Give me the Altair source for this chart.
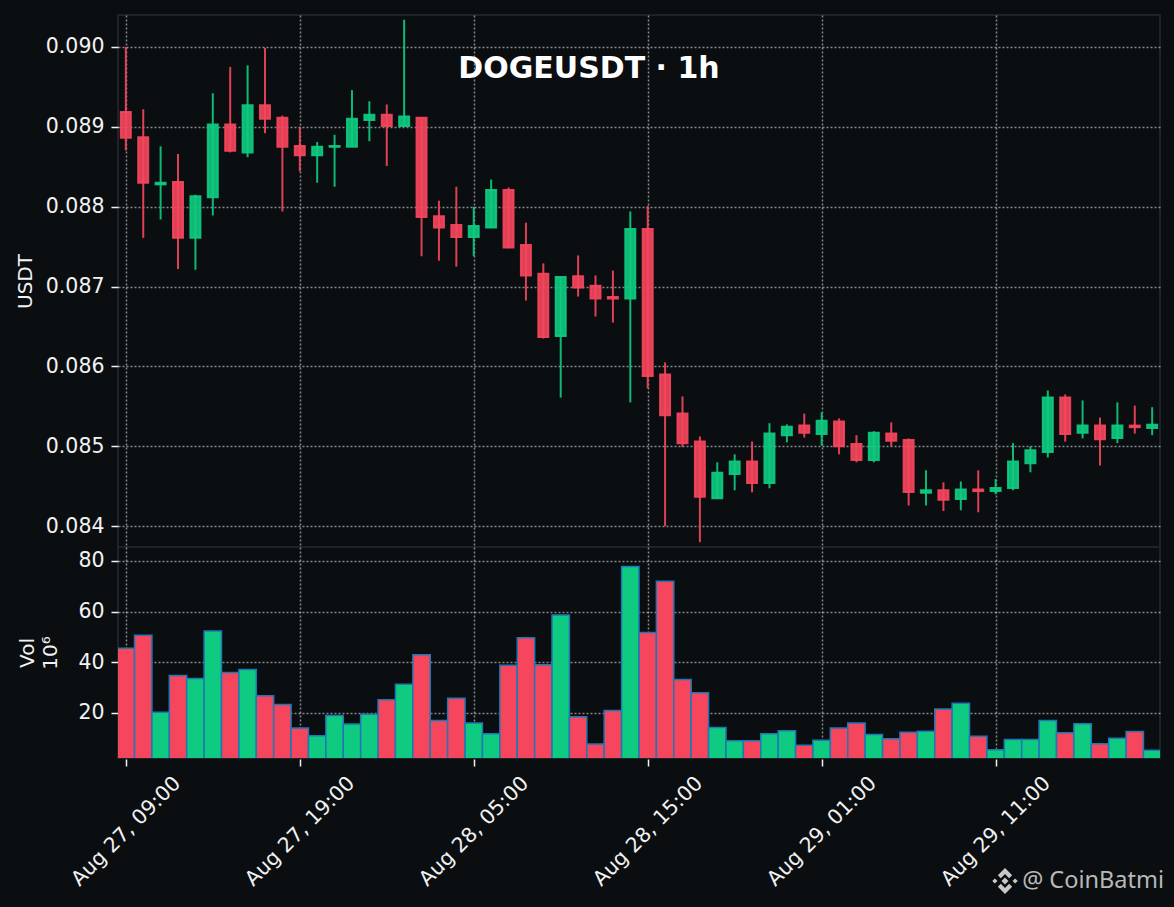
import altair as alt
import pandas as pd

BG = "#0b0e11"
RED = "#F6465D"
GREEN = "#0ECB81"

open_ = [89.187,88.87,88.28,88.31,87.61,88.12,89.03,88.68,89.27,89.115,88.76,88.645,88.75,88.75,89.085,89.15,89.01,89.115,87.88,87.77,
         87.62,87.74,88.21,87.52,87.16,86.38,87.13,87.01,86.87,86.85,87.72,85.90,85.41,85.06,84.35,84.655,84.81,84.54,85.14,85.26,
         85.155,85.31,85.03,84.83,85.16,85.08,84.42,84.45,84.34,84.46,84.44,84.48,84.79,84.93,85.61,85.17,85.26,85.105,85.26,85.23]
close = [88.864,88.30,88.30,87.61,88.13,89.03,88.70,89.27,89.10,88.75,88.645,88.75,88.76,89.10,89.15,89.01,89.13,87.87,87.74,87.62,
         87.76,88.21,87.49,87.14,86.37,87.12,86.99,86.85,86.85,87.72,85.88,85.39,85.04,84.37,84.67,84.81,84.54,85.16,85.245,85.17,
         85.32,85.00,84.83,85.17,85.07,84.43,84.45,84.33,84.46,84.44,84.48,84.81,84.95,85.61,85.155,85.26,85.09,85.26,85.24,85.27]
high = [90.00,89.22,88.755,88.66,88.15,89.42,89.75,89.77,89.99,89.14,89.00,88.81,88.90,89.46,89.32,89.28,90.34,89.115,88.075,88.25,
        88.00,88.34,88.24,87.80,87.29,87.125,87.39,87.14,87.20,87.94,88.01,86.05,85.625,85.125,84.80,84.90,85.06,85.29,85.275,85.41,
        85.425,85.35,85.14,85.19,85.30,85.10,84.70,84.55,84.56,84.70,84.59,85.04,85.00,85.70,85.65,85.575,85.36,85.55,85.51,85.49]
low = [88.704,87.61,87.84,87.22,87.21,87.89,88.68,88.62,88.92,87.94,88.44,88.30,88.25,88.75,88.82,88.51,89.00,87.38,87.325,87.25,
       87.38,87.74,87.48,86.825,86.35,85.61,86.875,86.625,86.55,85.55,85.725,84.00,84.99,83.80,84.35,84.45,84.425,84.475,85.05,85.11,
       85.01,84.90,84.80,84.80,85.00,84.26,84.26,84.19,84.20,84.175,84.40,84.45,84.675,84.86,85.06,85.10,84.76,85.04,85.16,85.14]
volume = [45.5,50.7,20.3,34.8,33.6,52.3,36,37.1,26.8,23.3,14,11,19,15.6,19.5,25.2,31.3,43,17,25.8,
          16,11.8,38.8,49.7,39,58.7,18.5,7.7,21,77.8,51.7,72,33.2,28,14.2,9,9,11.8,13,7.2,
          9.2,14,16,11.5,9.8,12.4,12.8,21.5,23.8,10.8,5.5,9.5,9.5,17,12.2,15.7,7.8,10,12.7,5.3]
price_ticks = [0.084, 0.085, 0.086, 0.087, 0.088, 0.089, 0.090]
volume_ticks = [20, 40, 60, 80]
TITLE = "DOGEUSDT · 1h"
WATERMARK = "@ CoinBatmi"
LOGO = ("M0,-0.27L0.27,0L0,0.27L-0.27,0Z"
        "M-0.78,-0.2L-0.58,0L-0.78,0.2L-0.98,0Z"
        "M0.78,-0.2L0.98,0L0.78,0.2L0.58,0Z"
        "M0,-1L0.55,-0.45L0.32,-0.22L0,-0.54L-0.32,-0.22L-0.55,-0.45Z"
        "M0,1L0.55,0.45L0.32,0.22L0,0.54L-0.32,0.22L-0.55,0.45Z")

times = pd.date_range("2025-08-27 09:00", periods=len(volume), freq="h", tz="UTC")
ms = [int(t.timestamp() * 1000) for t in times]
HOUR = 3600000
df = pd.DataFrame({
    "t": ms,
    "open": [v / 1000 for v in open_],
    "close": [v / 1000 for v in close],
    "high": [v / 1000 for v in high],
    "low": [v / 1000 for v in low],
    "volume": volume,
})
df["dir"] = ["up" if c >= o else "down" for o, c in zip(df["open"], df["close"])]

x_scale = alt.Scale(type="utc", padding=0, domain=[ms[0] - 0.45 * HOUR, ms[-1] + 0.45 * HOUR])
color = alt.Color("dir:N", scale=alt.Scale(domain=["up", "down"], range=[GREEN, RED]), legend=None)
tick_values = ms[::10]
W = 1042
H_TOP = 532
H_BOT = 211
FONT = "DejaVu Sans"
GRID = dict(grid=True, gridColor="#ffffff", gridOpacity=0.5, gridDash=[2, 2], gridWidth=1.5)
YAX = dict(labelColor="#f2f2f2", labelFontSize=20.5, labelFont=FONT, titleColor="#f2f2f2", titleFontSize=20,
           titleFont=FONT, titleFontWeight="normal", tickColor="#f2f2f2", tickWidth=1.5, tickSize=7,
           domain=False, labelPadding=7, **GRID)

x_top = alt.X("t:T", scale=x_scale, axis=alt.Axis(values=tick_values, labels=False, ticks=False, domain=False, title=None, **GRID))
price_scale = alt.Scale(domain=[0.08374, 0.09040], zero=False, nice=False)
price_axis = alt.Axis(values=price_ticks, format=".3f", title="USDT", titlePadding=10, **YAX)

base = alt.Chart(df)
wicks = base.mark_rule(strokeWidth=2, opacity=0.9).encode(
    x=x_top, y=alt.Y("low:Q", scale=price_scale, axis=price_axis), y2="high:Q", color=color)
bodies = base.mark_bar(size=10, strokeWidth=2, fillOpacity=0.9, strokeOpacity=0.9).encode(
    x=x_top, y=alt.Y("open:Q", scale=price_scale, axis=price_axis), y2="close:Q", color=color,
    stroke=alt.Stroke("dir:N", scale=alt.Scale(domain=["up", "down"], range=[GREEN, RED]), legend=None))
title_text = alt.Chart(pd.DataFrame({"label": [TITLE]})).mark_text(
    font=FONT, fontSize=30, fontWeight="bold", color="#ffffff", align="center", baseline="middle"
).encode(x=alt.value(471), y=alt.value(54), text="label:N")
top = alt.layer(wicks, bodies, title_text).properties(width=W, height=H_TOP)

x_bot = alt.X("t:T", scale=x_scale, axis=alt.Axis(
    values=tick_values, labelExpr="utcFormat(datum.value, '%b %d, %H:%M')", title=None, labelAngle=-45, labelAlign="center",
    labelBaseline="middle", labelColor="#f2f2f2", labelFontSize=20.5, labelFont=FONT, tickColor="#f2f2f2", tickWidth=1.5,
    tickSize=7, domain=False, labelPadding=65, offset=1, labelFlush=False, labelOverlap=False, **GRID))
vol_bars = base.mark_bar(size=17.4, stroke="#1f77b4", strokeWidth=1.5, clip=True).encode(
    x=x_bot,
    y=alt.Y("volume:Q", scale=alt.Scale(domain=[2.2, 85.5], zero=False, nice=False),
            axis=alt.Axis(values=volume_ticks, title=["Vol", "10⁶"], titlePadding=17, titleLineHeight=23, **YAX)),
    color=color)
mark_text = alt.Chart(pd.DataFrame({"label": [WATERMARK]})).mark_text(
    font="Noto Sans", fontSize=23.5, color="#b8b8b8", align="right", baseline="middle"
).encode(x=alt.value(1046), y=alt.value(334), text="label:N")
logo = alt.Chart(pd.DataFrame({"k": [1]})).mark_point(
    shape=LOGO, filled=True, size=676, color="#c8c8c8", opacity=1
).encode(x=alt.value(887), y=alt.value(334))
bottom = alt.layer(vol_bars, mark_text, logo).properties(width=W, height=H_BOT)

chart = alt.vconcat(top, bottom, spacing=0, bounds="flush").resolve_scale(x="shared", color="independent").properties(
    background=BG,
    padding={"left": 6, "top": 6, "right": 0, "bottom": 0},
).configure_view(stroke="#1e2329", strokeWidth=2, fill=BG).configure_axis(labelLimit=300)

chart.save("out.html", embed_options={"renderer": "svg", "actions": False,
                                      "defaultStyle": "body{background:#0b0e11}"})
